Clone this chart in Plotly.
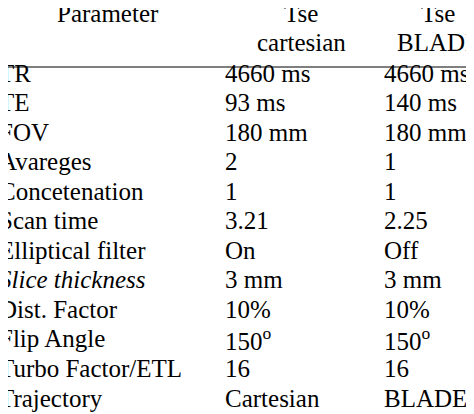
import plotly.graph_objects as go

W, H = 474, 414
params = ["TR", "TE", "FOV", "Avareges", "Concetenation", "Scan time", "Elliptical filter",
          "<i>Slice thickness</i>", "Dist. Factor", "Flip Angle", "Turbo Factor/ETL", "Trajectory"]
cartesian = ["4660 ms", "93 ms", "180 mm", "2", "1", "3.21", "On", "3 mm", "10%",
             "150<sup>o</sup>", "16", "Cartesian"]
blade = ["4660 ms", "140 ms", "180 mm", "1", "1", "2.25", "Off", "3 mm", "10%",
         "150<sup>o</sup>", "16", "BLADE"]
headers = ["Parameter", "Tse<br>cartesian", "Tse<br>BLADE"]

DX, DY = -9, -10
font = dict(family="Liberation Serif", size=25, color="black")
hfont = dict(family="Liberation Serif", size=25, color="black")
ann = []
def px(x): return (x + DX) / W
def py(y): return 1 - (y + DY) / H

ann.append(dict(x=px(100 + 9), y=py(16), text=headers[0], xanchor="center", yanchor="middle", font=hfont))
for cx, t in [(293, headers[1]), (430, headers[2])]:
    a, b = t.split("<br>")
    ann.append(dict(x=px(cx + 9), y=py(16), text=a, xanchor="center", yanchor="middle", font=hfont))
    ann.append(dict(x=px(cx + 9), y=py(44), text=b, xanchor="center", yanchor="middle", font=hfont))
step = (400 - 75) / 11
for i in range(len(params)):
    y = 75 + i * step
    for x, t in [(-1, params[i]), (225, cartesian[i]), (384, blade[i])]:
        ann.append(dict(x=px(x), y=py(y), text=t, xanchor="left", yanchor="middle", font=font))
for a in ann:
    a.update(xref="paper", yref="paper", showarrow=False, borderpad=0)
fig = go.Figure()
fig.update_layout(
    width=W, height=H, margin=dict(l=0, r=0, t=0, b=0),
    paper_bgcolor="white", plot_bgcolor="white", annotations=ann,
    xaxis=dict(visible=False, range=[0, 1]), yaxis=dict(visible=False, range=[0, 1]),
    shapes=[dict(type="line", xref="paper", yref="paper", x0=0, x1=1, y0=1 - 59 / H, y1=1 - 59 / H,
                 line=dict(color="#555", width=1.5))],
)
fig.write_html("out.html")
